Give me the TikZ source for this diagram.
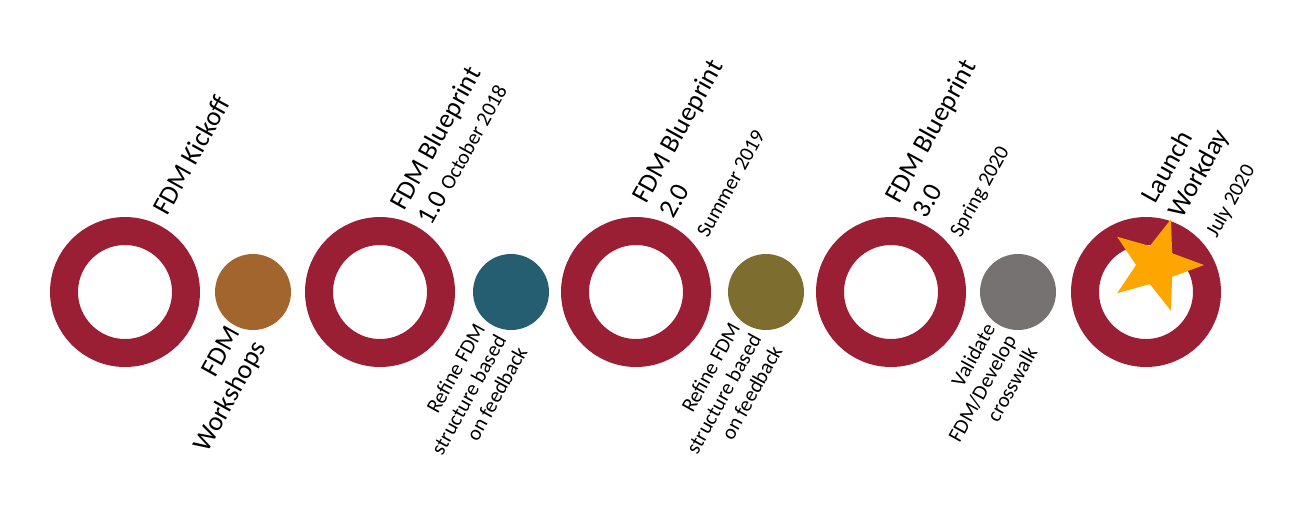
\documentclass[tikz,border=0pt]{standalone}
\usepackage{fontspec}
\setmainfont{Carlito}
\usepackage{xcolor}
\usepackage{tikz}
\usetikzlibrary{shapes,positioning}
\definecolor{fdmred}{HTML}{9B1F34}
\definecolor{fdmbrown}{HTML}{A3652E}
\definecolor{fdmteal}{HTML}{255E70}
\definecolor{fdmolive}{HTML}{7D6E2F}
\definecolor{fdmgray}{HTML}{767271}
\definecolor{fdmstar}{HTML}{FFA500}
\newcommand{\fdmbig}{\fontsize{15.3pt}{17.6pt}\selectfont}
\newcommand{\fdmsmall}{\fontsize{11.9pt}{13.7pt}\selectfont}
\tikzset{
  fdm ring/.style={circle, draw=fdmred, line width=0.56cm, minimum size=2.44cm, inner sep=0pt},
  fdm dot/.style={circle, minimum size=1.52cm, inner sep=0pt},
  fdm top label/.style={rotate=61, anchor=north west, align=left, inner sep=0pt, font=\fdmbig},
  fdm bottom label/.style={rotate=61, anchor=north east, align=right, inner sep=0pt, font=\fdmsmall}
}

\begin{document}
\begin{tikzpicture}[x=0.02cm, y=-0.02cm]
    \useasboundingbox (0,0) rectangle (1308,522);
    % Milestone rings
    \node [fdm ring] (Kick) at (125,292) {};
    \node [fdm ring] (BlueA) at (380,292) {};
    \node [fdm ring] (BlueB) at (636,292) {};
    \node [fdm ring] (BlueC) at (891,292) {};
    \node [fdm ring] (Launch) at (1146,292) {};

    % Phase dots
    \node [fdm dot, fill=fdmbrown] (Shops) at (253,292) {};
    \node [fdm dot, fill=fdmteal] (RefA) at (511,292) {};
    \node [fdm dot, fill=fdmolive] (RefB) at (766,292) {};
    \node [fdm dot, fill=fdmgray] (Valid) at (1018,292) {};

    % Launch star
    \node [star, star points=5, star point ratio=2.4, shape border rotate=-90, fill=fdmstar, minimum size=1.92cm, inner sep=0pt] (Star) at (1156,265) {};

    % Milestone labels
    \node [fdm top label] (KickL) at (151,208) {FDM Kickoff};
    \node [fdm top label] (BlueAL) at (388,203) {FDM Blueprint\\1.0 {\fdmsmall October 2018}};
    \node [fdm top label] (BlueBL) at (630,196) {FDM Blueprint\\2.0\\[4.5pt] {\fdmsmall Summer 2019}};
    \node [fdm top label] (BlueCL) at (883,196) {FDM Blueprint\\3.0\\[4.5pt] {\fdmsmall Spring 2020}};
    \node [fdm top label] (LaunchL) at (1139,196) {Launch\\Workday\\[4.5pt] {\fdmsmall July 2020}};

    % Phase labels
    \node [fdm bottom label, font=\fontsize{15.3pt}{17pt}\selectfont] (ShopsL) at (225,324) {FDM\\Workshops};
    \node [fdm bottom label] (RefAL) at (473,321) {Refine FDM\\structure based\\on feedback};
    \node [fdm bottom label] (RefBL) at (728,320) {Refine FDM\\structure based\\on feedback};
    \node [fdm bottom label] (ValidL) at (983,321) {Validate\\FDM/Develop\\crosswalk};
\end{tikzpicture}
\end{document}
